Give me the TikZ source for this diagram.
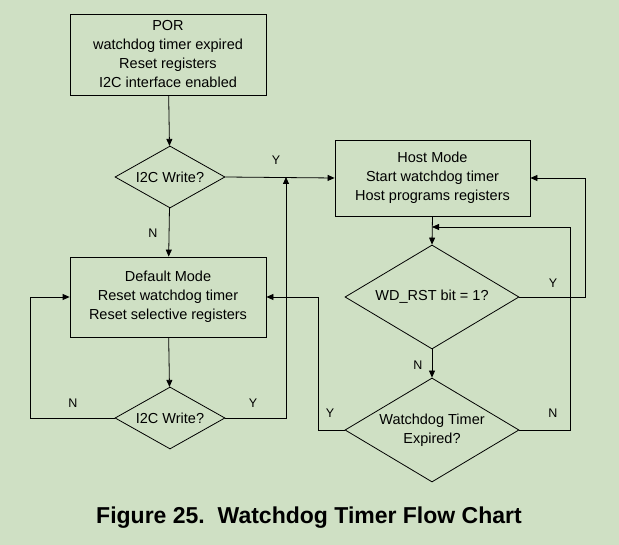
\documentclass[tikz,border=0pt]{standalone}
\usepackage{fontspec}
\setmainfont{Liberation Sans}
\usetikzlibrary{shapes.geometric,arrows.meta}
\definecolor{bg}{RGB}{207,224,196}
\begin{document}
\begin{tikzpicture}[x=1pt,y=-1pt,
  box/.style={draw,thick,minimum width=196pt,align=center,font=\fontsize{14.5}{19}\selectfont,inner sep=0pt},
  dia/.style={draw,thick,diamond,aspect=1.77,inner sep=0pt,align=center,font=\fontsize{14.5}{19}\selectfont},
  lbl/.style={font=\fontsize{12.5}{14}\selectfont},
  arr/.style={thick,-{Triangle[length=7pt,width=6pt]}},
  ln/.style={thick}]
\fill[bg] (0,0) rectangle (619,545);
\useasboundingbox (0,0) rectangle (619,545);
\node[box,minimum height=81pt] (por) at (168,54.5) {POR\\watchdog timer expired\\Reset registers\\I2C interface enabled};
\node[dia,minimum width=110pt,minimum height=62pt] (d1) at (170,177) {I2C Write?};
\node[box,minimum height=80pt] (def) at (168,297) {Default Mode\\Reset watchdog timer\\Reset selective registers};
\node[dia,minimum width=110pt,minimum height=62pt] (d2) at (170,418) {I2C Write?};
\node[box,minimum width=195pt,minimum height=76pt] (host) at (432.5,178) {Host Mode\\Start watchdog timer\\Host programs registers};
\node[dia,minimum width=174pt,minimum height=104pt] (wd) at (432,297) {WD\_RST bit = 1?};
\node[dia,minimum width=174pt,minimum height=104pt] (we) at (432,430) {Watchdog Timer\\Expired?};
\coordinate (j1) at (286,177);
\coordinate (j2) at (432,227);
\draw[arr] (por) -- (d1);
\draw[arr] (d1) -- (def);
\draw[arr] (def) -- (d2);
\draw[arr] (d1.east) -- (host.west);
\draw[arr] (d2.east) -| (j1);
\draw[arr] (d2.west) -- (30,418) |- (def.west);
\draw[arr] (host.south) -- (wd.north);
\draw[arr] (wd.east) -- (585,297) |- (host.east);
\draw[arr] (wd.south) -- (we.north);
\draw[arr] (we.west) -- (318,430) |- (def.east);
\draw[arr] (we.east) -- (570,430) |- (j2);
\node[lbl] (l1) at (276,160) {Y};
\node[lbl] (l2) at (153,233) {N};
\node[lbl] (l3) at (73,403) {N};
\node[lbl] (l4) at (253,403) {Y};
\node[lbl] (l5) at (553,283) {Y};
\node[lbl] (l6) at (418,365) {N};
\node[lbl] (l7) at (330,413) {Y};
\node[lbl] (l8) at (553,413) {N};
\node[font=\fontsize{23}{27}\bfseries\selectfont] (cap) at (309,518) {Figure 25.\ \ Watchdog Timer Flow Chart};
\end{tikzpicture}
\end{document}
